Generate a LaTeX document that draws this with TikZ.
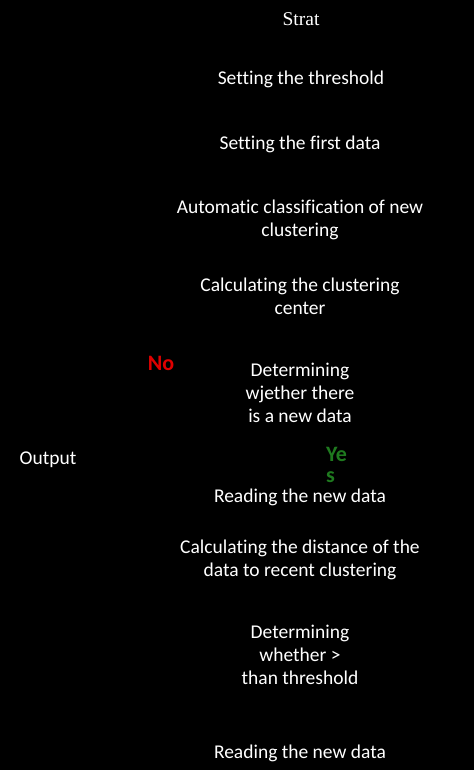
\documentclass[tikz,border=0pt]{standalone}
\usepackage{fontspec}
\setmainfont{Carlito}[Ligatures=NoCommon]
\newfontfamily\stratfont{Liberation Serif}
\usepackage{xcolor}
\usepackage{tikz}
\definecolor{nored}{HTML}{E00000}
\definecolor{yesgreen}{HTML}{1F7A1F}

\tikzset{
    step box/.style={text=white, align=center, inner sep=0pt,
        font=\fontsize{19.5}{23}\selectfont},
    branch/.style={inner sep=0pt, align=left,
        font=\fontsize{22}{21}\selectfont\bfseries}
}

\begin{document}
\begin{tikzpicture}[x=1pt, y=-1pt]
    \fill[black] (0,0) rectangle (474,770);
    \useasboundingbox (0,0) rectangle (474,770);
    \node[step box, font=\stratfont\fontsize{19.5}{18}\selectfont] (start) at (301,19) {Strat};
    \node[step box] (thresh) at (301,79) {Setting the threshold};
    \node[step box] (first) at (300,144) {Setting the first data};
    \node[step box] (classify) at (300,220) {Automatic classification of new\\clustering};
    \node[step box] (center) at (300,296) {Calculating the clustering\\center};
    \node[step box] (newdata) at (300,393) {Determining\\wjether there\\is a new data};
    \node[branch, nored] (no) at (161,363) {No};
    \node[step box] (output) at (48,460) {Output};
    \node[branch, yesgreen, anchor=west] (yes) at (326,465) {Ye\\s};
    \node[step box] (read) at (300,497) {Reading the new data};
    \node[step box] (dist) at (300,560) {Calculating the distance of the\\data to recent clustering};
    \node[step box] (compare) at (300,655) {Determining\\whether >\\than threshold};
    \node[step box] (readagain) at (300,753) {Reading the new data};
\end{tikzpicture}
\end{document}
